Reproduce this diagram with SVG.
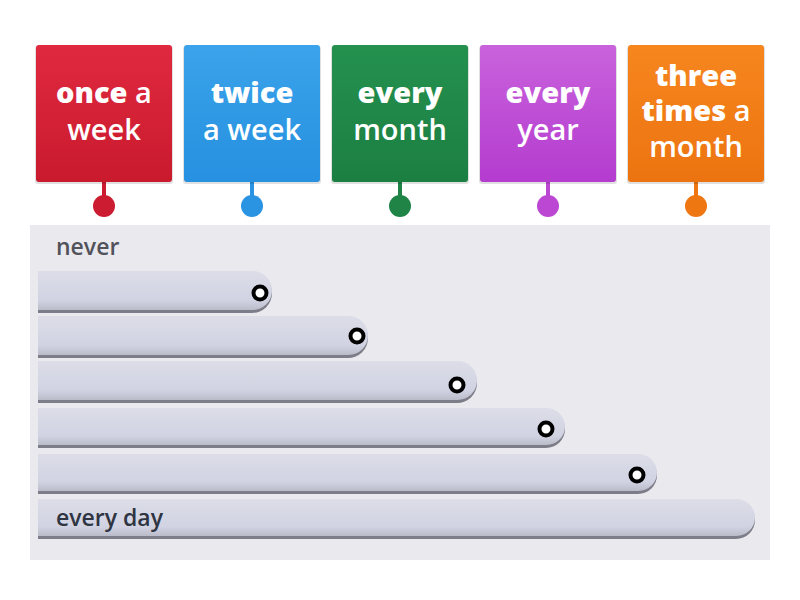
<svg xmlns="http://www.w3.org/2000/svg" width="800" height="600" viewBox="0 0 800 600">
<defs>
<linearGradient id="gRed" x1="0" y1="0" x2="0" y2="1"><stop offset="0" stop-color="#e0293f"/><stop offset="1" stop-color="#c91a2e"/></linearGradient>
<linearGradient id="gBlue" x1="0" y1="0" x2="0" y2="1"><stop offset="0" stop-color="#3aa3ea"/><stop offset="1" stop-color="#2790e0"/></linearGradient>
<linearGradient id="gGreen" x1="0" y1="0" x2="0" y2="1"><stop offset="0" stop-color="#24914f"/><stop offset="1" stop-color="#1c7f42"/></linearGradient>
<linearGradient id="gPurple" x1="0" y1="0" x2="0" y2="1"><stop offset="0" stop-color="#c962dc"/><stop offset="1" stop-color="#b43ccf"/></linearGradient>
<linearGradient id="gOrange" x1="0" y1="0" x2="0" y2="1"><stop offset="0" stop-color="#f7861f"/><stop offset="1" stop-color="#ec7410"/></linearGradient>
<linearGradient id="gBar" x1="0" y1="0" x2="0" y2="1"><stop offset="0" stop-color="#dcdde7"/><stop offset="0.75" stop-color="#d1d3e3"/><stop offset="1" stop-color="#babcc9"/></linearGradient>
</defs>
<style>
.t{font-family:"Open Sans","Noto Sans","DejaVu Sans",sans-serif;font-size:29px;font-weight:600;fill:#ffffff;text-anchor:middle}
.b{font-weight:800}
.shadow{fill:#000;opacity:0.12}
.bar{fill:url(#gBar)}
.edge{fill:#7c7d88}
.dot{fill:#fff;stroke:#000;stroke-width:4}
.lbl{font-family:"Open Sans","Noto Sans","DejaVu Sans",sans-serif;font-weight:600;font-size:23px}
</style>
<rect width="800" height="600" fill="#ffffff"/>
<rect x="30" y="225" width="740" height="335" fill="#e9e9ee"/>
<text class="lbl" x="56" y="255" fill="#52525a">never</text>

<g id="bars">
<g id="bar1"><path class="edge" d="M38 273 H252 A20 20 0 0 1 252 313 H38 Z"/><path class="bar" d="M38 271 H252.5 A19.5 19.5 0 0 1 252.5 310 H38 Z"/></g>
<g id="bar2"><path class="edge" d="M38 318 H348 A20 20 0 0 1 348 358 H38 Z"/><path class="bar" d="M38 316 H348.5 A19.5 19.5 0 0 1 348.5 355 H38 Z"/></g>
<g id="bar3"><path class="edge" d="M38 363 H457 A20 20 0 0 1 457 403 H38 Z"/><path class="bar" d="M38 361 H457.5 A19.5 19.5 0 0 1 457.5 400 H38 Z"/></g>
<g id="bar4"><path class="edge" d="M38 410 H546 A19 19 0 0 1 546 448 H38 Z"/><path class="bar" d="M38 408 H546.5 A18.5 18.5 0 0 1 546.5 445 H38 Z"/></g>
<g id="bar5"><path class="edge" d="M38 456 H638 A19 19 0 0 1 638 494 H38 Z"/><path class="bar" d="M38 454 H638.5 A18.5 18.5 0 0 1 638.5 491 H38 Z"/></g>
<g id="bar6"><path class="edge" d="M38 501 H736 A19 19 0 0 1 736 539 H38 Z"/><path class="bar" d="M38 499 H736.5 A18.5 18.5 0 0 1 736.5 536 H38 Z"/>
<text class="lbl" x="56" y="526" fill="#2f3442">every day</text></g>
</g>

<g id="connectors">
<line x1="104" y1="182" x2="104" y2="206" stroke="#cc1c31" stroke-width="4"/>
<line x1="252" y1="182" x2="252" y2="206" stroke="#2a93e2" stroke-width="4"/>
<line x1="400" y1="182" x2="400" y2="206" stroke="#1f8446" stroke-width="4"/>
<line x1="548" y1="182" x2="548" y2="206" stroke="#bb47d3" stroke-width="4"/>
<line x1="696" y1="182" x2="696" y2="206" stroke="#ee7712" stroke-width="4"/>
</g>

<g id="card1">
<rect class="shadow" x="35" y="46" width="138" height="138" rx="3"/>
<rect x="36" y="45" width="136" height="137" rx="3" fill="url(#gRed)"/>
<circle cx="104" cy="206" r="11" fill="#cc1c31"/>
<text class="t" x="104" y="103"><tspan class="b">once</tspan> a</text>
<text class="t" x="104" y="140">week</text>
</g>
<g id="card2">
<rect class="shadow" x="183" y="46" width="138" height="138" rx="3"/>
<rect x="184" y="45" width="136" height="137" rx="3" fill="url(#gBlue)"/>
<circle cx="252" cy="206" r="11" fill="#2a93e2"/>
<text class="t b" x="252" y="103">twice</text>
<text class="t" x="252" y="140">a week</text>
</g>
<g id="card3">
<rect class="shadow" x="331" y="46" width="138" height="138" rx="3"/>
<rect x="332" y="45" width="136" height="137" rx="3" fill="url(#gGreen)"/>
<circle cx="400" cy="206" r="11" fill="#1f8446"/>
<text class="t b" x="400" y="103">every</text>
<text class="t" x="400" y="140">month</text>
</g>
<g id="card4">
<rect class="shadow" x="479" y="46" width="138" height="138" rx="3"/>
<rect x="480" y="45" width="136" height="137" rx="3" fill="url(#gPurple)"/>
<circle cx="548" cy="206" r="11" fill="#bb47d3"/>
<text class="t b" x="548" y="103">every</text>
<text class="t" x="548" y="140">year</text>
</g>
<g id="card5">
<rect class="shadow" x="627" y="46" width="138" height="138" rx="3"/>
<rect x="628" y="45" width="136" height="137" rx="3" fill="url(#gOrange)"/>
<circle cx="696" cy="206" r="11" fill="#ee7712"/>
<text class="t b" x="696" y="86">three</text>
<text class="t" x="696" y="121"><tspan class="b">times</tspan> a</text>
<text class="t" x="696" y="157">month</text>
</g>

<g id="dots">
<circle class="dot" cx="260" cy="293" r="6.5"/>
<circle class="dot" cx="357" cy="336" r="6.5"/>
<circle class="dot" cx="457" cy="385" r="6.5"/>
<circle class="dot" cx="546" cy="429" r="6.5"/>
<circle class="dot" cx="637" cy="475" r="6.5"/>
</g>
</svg>
